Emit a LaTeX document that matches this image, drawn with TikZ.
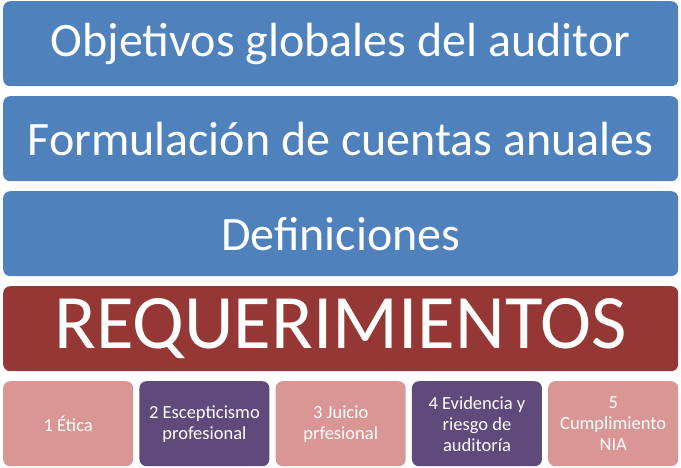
\documentclass[tikz,border=0pt]{standalone}
\usepackage{fontspec}
\setmainfont{Carlito}
\definecolor{blueC}{HTML}{4F81BD}
\definecolor{redC}{HTML}{953735}
\definecolor{pinkC}{HTML}{D99694}
\definecolor{purpleC}{HTML}{604A7B}
\tikzset{
  bar/.style={rounded corners=7pt, inner sep=0pt, text=white, anchor=north west,
    minimum width=675pt, minimum height=85pt},
  tile/.style={rounded corners=7pt, inner sep=0pt, text=white, anchor=north west,
    minimum width=130pt, minimum height=85pt, align=center,
    font=\fontsize{18.5}{21}\selectfont},
  bigtext/.style={font=\fontsize{48}{56}\selectfont}
}
\begin{document}
\begin{tikzpicture}[x=1pt,y=-1pt]
\useasboundingbox (0,0) rectangle (681,468);
\node[bar, fill=blueC, bigtext] (obj) at (3,1) {Objetivos globales del auditor};
\node[bar, fill=blueC, bigtext] (form) at (3,96) {Formulación de cuentas anuales};
\node[bar, fill=blueC, bigtext] (def) at (3,191) {Definiciones};
\node[bar, fill=redC, font=\fontsize{77}{90}\selectfont] (req) at (3,286) {REQUERIMIENTOS};
\node[tile, fill=pinkC] (t1) at (3,381) {1 Ética};
\node[tile, fill=purpleC] (t2) at (139.25,381) {2 Escepticismo\\profesional};
\node[tile, fill=pinkC] (t3) at (275.5,381) {3 Juicio\\prfesional};
\node[tile, fill=purpleC] (t4) at (411.75,381) {4 Evidencia y\\riesgo de\\auditoría};
\node[tile, fill=pinkC] (t5) at (548,381) {5\\Cumplimiento\\NIA};
\end{tikzpicture}
\end{document}
